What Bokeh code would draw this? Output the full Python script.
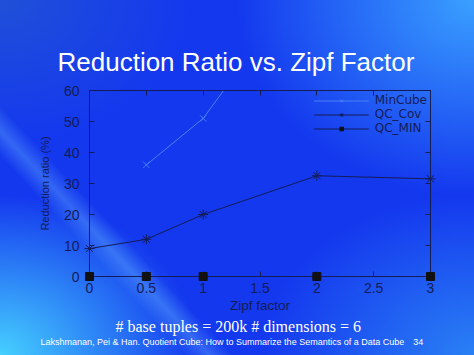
from bokeh.plotting import figure
from bokeh.models import (FixedTicker, LinearAxis, Range1d, Title, Legend, LegendItem,
                          GlobalInlineStyleSheet)
from bokeh.embed import file_html
from bokeh.resources import INLINE

# ---- data ----
zipf = [0, 0.5, 1, 2, 3]
qc_cov = [9, 12, 20, 32.5, 31.5]
qc_min = [0, 0, 0, 0, 0]
mincube_x = [0.5, 1, 1.5]
mincube = [36, 51, 76]
x_ticks = [0, 0.5, 1, 1.5, 2, 2.5, 3]
x_tick_labels = ["0", "0.5", "1", "1.5", "2", "2.5", "3"]
y_ticks = [0, 10, 20, 30, 40, 50, 60]

title_text = "Reduction Ratio vs. Zipf Factor"
sub_text = "# base tuples = 200k # dimensions = 6"
footer_text = "Lakshmanan, Pei & Han. Quotient Cube: How to Summarize the Semantics of a Data Cube"
page_no = "34"

W, H = 474, 355
ink = "#141c55"

bg = GlobalInlineStyleSheet(css="""
html, body {
  background:
    linear-gradient(47deg, rgba(110,190,255,0) 23%, rgba(110,190,255,0.35) 26%, rgba(110,190,255,0) 29%),
    radial-gradient(ellipse 42% 45% at 0% 100%, #46d0ff 0%, rgba(70,208,255,0) 100%),
    radial-gradient(ellipse 50% 55% at 100% 0%, #3aa0ff 0%, rgba(58,160,255,0) 100%),
    radial-gradient(ellipse 45% 45% at 100% 100%, #2a80f5 0%, rgba(42,128,245,0) 100%),
    radial-gradient(ellipse 40% 40% at 0% 0%, #2050d8 0%, rgba(32,80,216,0) 100%),
    #1438ee;
  background-attachment: fixed;
}
""")

p = figure(width=W, height=H, output_backend="svg", toolbar_location=None,
           x_range=Range1d(0, 3), y_range=Range1d(0, 60),
           min_border_left=89, min_border_right=44, min_border_top=90, min_border_bottom=79,
           border_fill_color=None, background_fill_color=None,
           outline_line_color=ink, outline_line_width=1)
p.stylesheets = [bg]
p.grid.visible = False

for ax in (p.xaxis[0], p.yaxis[0]):
    ax.axis_line_color = ink
    ax.major_tick_line_color = ink
    ax.major_tick_in = 5
    ax.major_tick_out = 0
    ax.minor_tick_line_color = None
    ax.major_label_text_color = ink
    ax.major_label_text_font = "Liberation Sans"
    ax.major_label_text_font_size = "14px"
    ax.axis_label_text_color = ink
    ax.axis_label_text_font = "Liberation Sans"
    ax.axis_label_text_font_style = "normal"

p.xaxis.ticker = FixedTicker(ticks=x_ticks)
p.xaxis.major_label_overrides = {t: l for t, l in zip(x_ticks, x_tick_labels)}
p.yaxis.ticker = FixedTicker(ticks=y_ticks)
p.xaxis.axis_label = "Zipf factor"
p.xaxis.axis_label_text_font_size = "13.5px"
p.xaxis.major_label_standoff = 6
p.xaxis.axis_label_standoff = 2
p.yaxis.axis_label = "Reduction ratio (%)"
p.yaxis.axis_label_text_font_size = "11px"
p.yaxis.major_label_standoff = 10
p.yaxis.axis_label_standoff = 10

# mirrored ticks (no labels)
top = LinearAxis(ticker=FixedTicker(ticks=x_ticks),
                 major_label_overrides={t: "" for t in x_ticks},
                 axis_line_color=ink, major_tick_line_color=ink, major_tick_in=5, major_tick_out=0,
                 minor_tick_line_color=None, major_label_standoff=0)
right = LinearAxis(ticker=FixedTicker(ticks=y_ticks),
                   major_label_overrides={t: "" for t in y_ticks},
                   axis_line_color=ink, major_tick_line_color=ink, major_tick_in=5, major_tick_out=0,
                   minor_tick_line_color=None, major_label_standoff=0)
p.add_layout(top, "above")
p.add_layout(right, "right")

mc_line = p.line(mincube_x, mincube, line_color="#4a80f4", line_width=1)
mc_pts = p.scatter(mincube_x, mincube, marker="x", size=9, line_color="#4a80f4", line_width=1)
cov_line = p.line(zipf, qc_cov, line_color=ink, line_width=1)
cov_pts = p.scatter(zipf, qc_cov, marker="asterisk", size=10, line_color=ink, line_width=1,
                    level="overlay")
min_line = p.line(zipf, qc_min, line_color=ink, line_width=1)
min_pts = p.scatter(zipf, qc_min, marker="square", size=8, fill_color="#111111",
                    line_color="#111111", level="overlay")

legend = Legend(items=[
    LegendItem(label="MinCube", renderers=[mc_line, mc_pts]),
    LegendItem(label="QC_Cov", renderers=[cov_line, cov_pts]),
    LegendItem(label="QC_MIN", renderers=[min_line, min_pts]),
], location="top_right", background_fill_alpha=0, border_line_alpha=0,
   label_text_font="DejaVu Sans", label_text_font_size="12px", label_text_color=ink,
   glyph_width=55, glyph_height=9, label_height=9, spacing=0, padding=2, margin=1,
   label_standoff=6)
p.add_layout(legend, "center")

# title (above) and subtitle + footer (below)
p.add_layout(Title(text=title_text, align="left", offset=-32, standoff=27,
                   text_color="white", text_font="Liberation Sans", text_font_size="26px",
                   text_font_style="normal"), "above")
p.add_layout(Title(text=sub_text, align="left", offset=26, standoff=0,
                   text_color="white", text_font="Liberation Serif", text_font_size="16px",
                   text_font_style="normal"), "below")
p.add_layout(Title(text=footer_text + "\u2002\u2002" + page_no, align="left", offset=-49,
                   standoff=0, text_color="white", text_font="Liberation Sans",
                   text_font_size="9px", text_font_style="normal"), "below")

open("out.html", "w").write(file_html(p, INLINE))
